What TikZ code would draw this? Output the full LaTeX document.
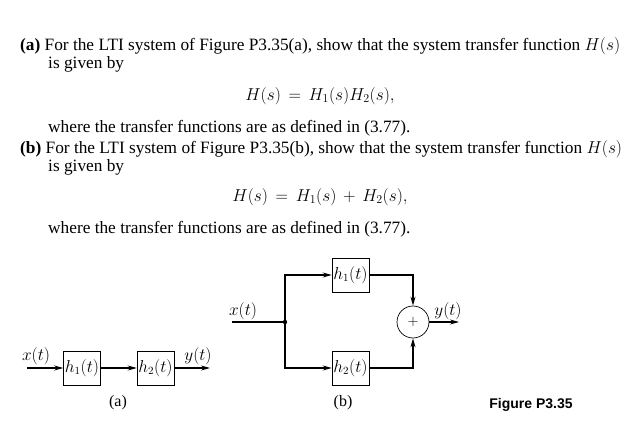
\documentclass[tikz,border=0pt]{standalone}
\usepackage{fontspec}
\setmainfont{Liberation Serif}
\newfontfamily\sansf{Liberation Sans}
\usetikzlibrary{arrows.meta}
\begin{document}
\begin{tikzpicture}[x=1pt,y=-1pt,
  txt/.style={anchor=west,inner sep=0pt,font=\fontsize{17.3}{19}\selectfont},
  blk/.style={draw,minimum width=37pt,minimum height=34pt,inner sep=0pt,line width=0.6pt,font=\fontsize{16}{18}\selectfont},
  lab/.style={inner sep=0pt,font=\fontsize{16}{18}\selectfont},
  sig/.style={line width=1.1pt,-{Stealth[length=9pt,width=5pt]}},
  ln/.style={line width=1.1pt}]
\useasboundingbox (0,0) rectangle (641,428);
\node[txt] (l1) at (20,46) {\textbf{(a)} For the LTI system of Figure P3.35(a), show that the system transfer function $H(s)$};
\node[txt] (l2) at (48,64) {is given by};
\node[txt,anchor=center] (e1) at (320,96) {$H(s)\,=\,H_1(s)H_2(s),$};
\node[txt] (l3) at (48,128) {where the transfer functions are as defined in (3.77).};
\node[txt] (l4) at (20,149) {\textbf{(b)} For the LTI system of Figure P3.35(b), show that the system transfer function $H(s)$};
\node[txt] (l5) at (48,167) {is given by};
\node[txt,anchor=center] (e2) at (320,197) {$H(s)\,=\,H_1(s)\,+\,H_2(s),$};
\node[txt] (l6) at (48,229) {where the transfer functions are as defined in (3.77).};
% (a)
\coordinate (ain) at (27,368);
\node[blk] (a1) at (82,368) {$h_1(t)$};
\node[blk] (a2) at (155.5,368) {$h_2(t)$};
\coordinate (aout) at (210,368);
\draw[sig] (ain) -- (a1);
\draw[sig] (a1) -- (a2);
\draw[sig] (a2) -- (aout);
\node[lab] (ax) at (36,356) {$x(t)$};
\node[lab] (ay) at (198,356) {$y(t)$};
\node[lab] (ca) at (118,403) {(a)};
% (b)
\coordinate (bin) at (232,322);
\coordinate (j) at (285,322);
\fill (j) circle (2.2pt);
\node[blk] (b1) at (350.5,275) {$h_1(t)$};
\node[blk] (b2) at (350.5,368) {$h_2(t)$};
\node[draw,circle,minimum size=32pt,inner sep=0pt,line width=0.7pt,font=\fontsize{14}{16}\selectfont] (s) at (413,322) {$+$};
\coordinate (bout) at (459,322);
\draw[ln] (bin) -- (j);
\draw[sig] (j) |- (b1);
\draw[sig] (j) |- (b2);
\draw[sig] (b1) -| (s);
\draw[sig] (b2) -| (s);
\draw[sig] (s) -- (bout);
\node[lab] (bx) at (243,311) {$x(t)$};
\node[lab] (by) at (448,311) {$y(t)$};
\node[lab] (cb) at (343,403) {(b)};
\node[inner sep=0pt,font=\sansf\bfseries\fontsize{14}{16}\selectfont] (fig) at (531,405) {Figure P3.35};
\end{tikzpicture}
\end{document}
